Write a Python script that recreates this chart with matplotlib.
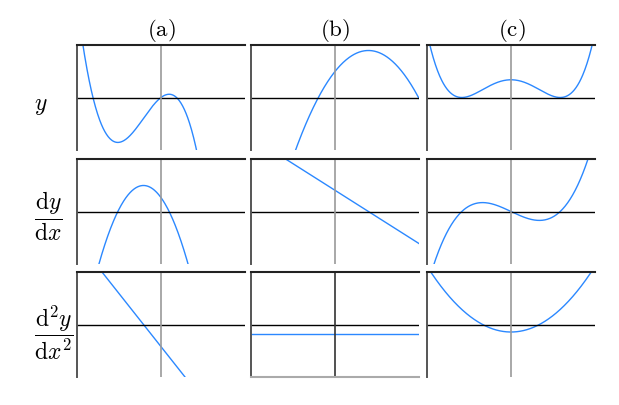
"""Curves y, dy/dx and d2y/dx2 for three example functions"""
import numpy as np
import matplotlib
matplotlib.use("Agg")
import matplotlib.pyplot as plt

plt.rcParams["mathtext.fontset"] = "cm"

# polynomial coefficients of y for each column (highest power first)
col_names = ["(a)", "(b)", "(c)"]
y_coefs_a = [-8.06, -5.04, 1.204, 0.0]
y_coefs_b = [-2.52, 2.006, 0.496]
y_coefs_c = [2.87, 0.0, -1.969, 0.0, 0.3377]
# half height of the y range in each panel: rows y, dy/dx, d2y/dx2
yrange_a = [1.0, 4.55, 23.9]
yrange_b = [1.0, 4.97, 27.4]
yrange_c = [1.0, 5.23, 27.5]
row_labels = [r"$y$", r"$\dfrac{\mathrm{d}y}{\mathrm{d}x}$",
              r"$\dfrac{\mathrm{d}^2y}{\mathrm{d}x^2}$"]

W, H = 619, 405
fig = plt.figure(figsize=(W / 100, H / 100), dpi=100)

col_left = [77, 251, 427]
row_top = [45, 159, 272]
pw, ph = 168, 105
blue = "#2b88ff"

coefs = [y_coefs_a, y_coefs_b, y_coefs_c]
yranges = [yrange_a, yrange_b, yrange_c]
x = np.linspace(-1, 1, 400)

for c in range(3):
    p = np.array(coefs[c])
    for r in range(3):
        ax = fig.add_axes([col_left[c] / W, (H - row_top[r] - ph) / H, pw / W, ph / H])
        vals = np.polyval(p, x)
        ax.plot(x, vals, color=blue, lw=1.0)
        hr = yranges[c][r]
        ax.set_xlim(-1, 1)
        ax.set_ylim(-hr, hr)
        ax.axhline(0, color="black", lw=1.0)
        vcol = "#333333" if (c == 1 and r == 2) else "#999999"
        ax.axvline(0, color=vcol, lw=1.2)
        ax.set_xticks([])
        ax.set_yticks([])
        ax.spines["right"].set_visible(False)
        ax.spines["top"].set_color("#222222")
        ax.spines["top"].set_linewidth(1.5)
        ax.spines["left"].set_color("#555555")
        ax.spines["left"].set_linewidth(1.4)
        if c == 1 and r == 2:
            ax.spines["bottom"].set_color("#aaaaaa")
            ax.spines["bottom"].set_linewidth(1.5)
        else:
            ax.spines["bottom"].set_visible(False)
        p = np.polyder(p)
    fig.text((col_left[c] + pw / 2 + 0.5) / W, 1 - 31 / H, r"$\mathrm{%s}$" % col_names[c],
             ha="center", va="center", fontsize=16.5)

label_y = [105, 217, 333]
for r in range(3):
    fig.text(34 / W, 1 - label_y[r] / H, row_labels[r], ha="left", va="center", fontsize=17)

fig.savefig("out.png", dpi=100)
